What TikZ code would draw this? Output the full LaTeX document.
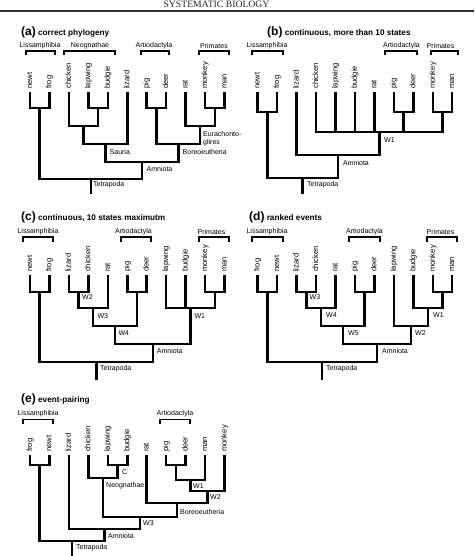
\documentclass[tikz,border=0pt]{standalone}
\usepackage{fontspec}
\setmainfont{Liberation Sans}
\newfontfamily\journalfont{Liberation Serif}
\usepackage{tikz}
\usetikzlibrary{positioning}

\begin{document}
\begin{tikzpicture}[x=1pt,y=-1pt,
  treeline/.style={line width=2.5pt},
  groupbracket/.style={line width=1.5pt},
  leafname/.style={rotate=90,anchor=west,inner sep=3pt,font=\fontsize{7.6}{8}\selectfont,text height=5.5pt,text depth=1.5pt},
  cladename/.style={anchor=west,inner sep=0pt,font=\fontsize{7}{7.5}\selectfont,align=left},
  groupname/.style={inner sep=0pt,font=\fontsize{7}{8}\selectfont},
  paneltitle/.style={anchor=base west,inner sep=0pt,font=\bfseries\fontsize{8.2}{9}\selectfont}]
\useasboundingbox (0,0) rectangle (474,556);
%running head
\node[anchor=base,inner sep=0pt,font=\journalfont\fontsize{9.7}{10}\selectfont,black!85] (head) at (216.5,7.3) {SYSTEMATIC BIOLOGY};
\draw[line width=1.3pt,black!80] (0,11) -- (474,11);

%%%%%%%%%% (a) correct phylogeny
\node[paneltitle] (a-title) at (21,35.5) {{\fontsize{12}{12}\selectfont (a)} correct phylogeny};
%groups
\node[groupname] (a-liss) at (40,46) {Lissamphibia};
\draw[groupbracket] (26,55.5) |- (55,51) -- (55,55.5);
\node[groupname] (a-neog) at (90,46) {Neognathae};
\draw[groupbracket] (64,55.5) |- (115,51) -- (115,55.5);
\node[groupname] (a-artio) at (154,46) {Artiodactyla};
\draw[groupbracket] (141,55.5) |- (169,51) -- (169,55.5);
\node[groupname] (a-prim) at (214,46) {Primates};
\draw[groupbracket] (199,55.5) |- (229,51) -- (229,55.5);
%leaves
\node[leafname] (a-newt) at (30,92) {newt};
\node[leafname] (a-frog) at (49.45,92) {frog};
\node[leafname] (a-chicken) at (68.9,92) {chicken};
\node[leafname] (a-lapwing) at (88.35,92) {lapwing};
\node[leafname] (a-budgie) at (107.8,92) {budgie};
\node[leafname] (a-lizard) at (127.25,92) {lizard};
\node[leafname] (a-pig) at (146.7,92) {pig};
\node[leafname] (a-deer) at (166.15,92) {deer};
\node[leafname] (a-rat) at (185.6,92) {rat};
\node[leafname] (a-monkey) at (205.05,92) {monkey};
\node[leafname] (a-man) at (224.5,92) {man};
%internal nodes
\coordinate (a-nf) at (39.73,108);
\coordinate (a-lb) at (98.08,108);
\coordinate (a-neo) at (83.49,126);
\coordinate (a-sau) at (105.37,144);
\coordinate (a-pd) at (156.43,108);
\coordinate (a-mm) at (214.78,108);
\coordinate (a-eur) at (200.19,126);
\coordinate (a-bor) at (178.31,144);
\coordinate (a-amn) at (141.84,162);
\coordinate (a-tet) at (90.79,179);
\coordinate (a-root) at (90.79,194);
%branches
\draw[treeline] (a-newt.west) |- (a-nf) -| (a-frog.west);
\draw[treeline] (a-lapwing.west) |- (a-lb) -| (a-budgie.west);
\draw[treeline] (a-chicken.west) |- (a-neo) -| (a-lb);
\draw[treeline] (a-neo) |- (a-sau) -| (a-lizard.west);
\draw[treeline] (a-pig.west) |- (a-pd) -| (a-deer.west);
\draw[treeline] (a-monkey.west) |- (a-mm) -| (a-man.west);
\draw[treeline] (a-rat.west) |- (a-eur) -| (a-mm);
\draw[treeline] (a-pd) |- (a-bor) -| (a-eur);
\draw[treeline] (a-sau) |- (a-amn) -| (a-bor);
\draw[treeline] (a-nf) |- (a-tet) -| (a-amn);
\draw[treeline] (a-tet) -- (a-root);
%clade names
\node[cladename] (a-sauria) at (109.5,151.5) {Sauria};
\node[cladename] (a-eurach) at (203,138.5) {Eurachonto-\\glires};
\node[cladename] (a-boreo) at (182.5,151.5) {Boreoeutheria};
\node[cladename] (a-amniota) at (146.5,168.5) {Amniota};
\node[cladename] (a-tetrapoda) at (93,184.5) {Tetrapoda};

%%%%%%%%%% (b) continuous, more than 10 states
\node[paneltitle] (b-title) at (267,35.5) {{\fontsize{12}{12}\selectfont (b)} continuous, more than 10 states};
%groups
\node[groupname] (b-liss) at (267,46) {Lissamphibia};
\draw[groupbracket] (252,55.5) |- (283,51) -- (283,55.5);
\node[groupname] (b-artio) at (401.5,46) {Artiodactyla};
\draw[groupbracket] (385,55.5) |- (417,51) -- (417,55.5);
\node[groupname] (b-prim) at (440.5,46) {Primates};
\draw[groupbracket] (431,55.5) |- (458,51) -- (458,55.5);
%leaves
\node[leafname] (b-newt) at (257.7,92) {newt};
\node[leafname] (b-frog) at (277.15,92) {frog};
\node[leafname] (b-lizard) at (296.6,92) {lizard};
\node[leafname] (b-chicken) at (316.05,92) {chicken};
\node[leafname] (b-lapwing) at (335.5,92) {lapwing};
\node[leafname] (b-budgie) at (354.95,92) {budgie};
\node[leafname] (b-rat) at (374.4,92) {rat};
\node[leafname] (b-pig) at (393.85,92) {pig};
\node[leafname] (b-deer) at (413.3,92) {deer};
\node[leafname] (b-monkey) at (432.75,92) {monkey};
\node[leafname] (b-man) at (452.2,92) {man};
%internal nodes
\coordinate (b-nf) at (267.43,112);
\coordinate (b-pd) at (403.58,112);
\coordinate (b-mm) at (442.48,112);
\coordinate (b-w1) at (379.26,132);
\coordinate (b-amn) at (337.93,155);
\coordinate (b-tet) at (302.68,178);
\coordinate (b-root) at (302.68,194);
%branches
\draw[treeline] (b-newt.west) |- (b-nf) -| (b-frog.west);
\draw[treeline] (b-pig.west) |- (b-pd) -| (b-deer.west);
\draw[treeline] (b-monkey.west) |- (b-mm) -| (b-man.west);
\draw[treeline] (b-chicken.west) |- (b-w1) -| (b-mm);
\draw[treeline] (b-lapwing.west) -- (b-lapwing.west |- b-w1);
\draw[treeline] (b-budgie.west) -- (b-budgie.west |- b-w1);
\draw[treeline] (b-rat.west) -- (b-rat.west |- b-w1);
\draw[treeline] (b-pd) -- (b-pd |- b-w1);
\draw[treeline] (b-lizard.west) |- (b-amn) -| (b-w1);
\draw[treeline] (b-nf) |- (b-tet) -| (b-amn);
\draw[treeline] (b-tet) -- (b-root);
%clade names
\node[cladename] (b-w1name) at (384,140) {W1};
\node[cladename] (b-amniota) at (343,163) {Amniota};
\node[cladename] (b-tetrapoda) at (307,184.5) {Tetrapoda};

%%%%%%%%%% (c) continuous, 10 states maximutm
\node[paneltitle] (c-title) at (21,220) {{\fontsize{12}{12}\selectfont (c)} continuous, 10 states maximutm};
%groups
\node[groupname] (c-liss) at (38,232) {Lissamphibia};
\draw[groupbracket] (23,242) |- (53,237) -- (53,242);
\node[groupname] (c-artio) at (133.5,232) {Artiodactyla};
\draw[groupbracket] (121,242) |- (151,237) -- (151,242);
\node[groupname] (c-prim) at (211.5,232) {Primates};
\draw[groupbracket] (199,242) |- (229,237) -- (229,242);
%leaves
\node[leafname] (c-newt) at (30,275) {newt};
\node[leafname] (c-frog) at (49.45,275) {frog};
\node[leafname] (c-lizard) at (68.9,275) {lizard};
\node[leafname] (c-chicken) at (88.35,275) {chicken};
\node[leafname] (c-rat) at (107.8,275) {rat};
\node[leafname] (c-pig) at (127.25,275) {pig};
\node[leafname] (c-deer) at (146.7,275) {deer};
\node[leafname] (c-lapwing) at (166.15,275) {lapwing};
\node[leafname] (c-budgie) at (185.6,275) {budgie};
\node[leafname] (c-monkey) at (205.05,275) {monkey};
\node[leafname] (c-man) at (224.5,275) {man};
%internal nodes
\coordinate (c-nf) at (39.73,292);
\coordinate (c-w2) at (78.63,292);
\coordinate (c-w3) at (93.21,308);
\coordinate (c-pd) at (136.98,292);
\coordinate (c-w4) at (115.1,326);
\coordinate (c-mm) at (214.78,292);
\coordinate (c-w1) at (190.46,308);
\coordinate (c-amn) at (152.78,344);
\coordinate (c-tet) at (96.25,362);
\coordinate (c-root) at (96.25,380);
%branches
\draw[treeline] (c-newt.west) |- (c-nf) -| (c-frog.west);
\draw[treeline] (c-lizard.west) |- (c-w2) -| (c-chicken.west);
\draw[treeline] (c-w2) |- (c-w3) -| (c-rat.west);
\draw[treeline] (c-pig.west) |- (c-pd) -| (c-deer.west);
\draw[treeline] (c-w3) |- (c-w4) -| (c-pd);
\draw[treeline] (c-monkey.west) |- (c-mm) -| (c-man.west);
\draw[treeline] (c-lapwing.west) |- (c-w1) -| (c-mm);
\draw[treeline] (c-budgie.west) -- (c-budgie.west |- c-w1);
\draw[treeline] (c-w4) |- (c-amn) -| (c-w1);
\draw[treeline] (c-nf) |- (c-tet) -| (c-amn);
\draw[treeline] (c-tet) -- (c-root);
%clade names
\node[cladename] (c-w2name) at (82,297.5) {W2};
\node[cladename] (c-w3name) at (97.3,316) {W3};
\node[cladename] (c-w4name) at (118.3,333.5) {W4};
\node[cladename] (c-w1name) at (194.3,316) {W1};
\node[cladename] (c-amniota) at (156.7,351) {Amniota};
\node[cladename] (c-tetrapoda) at (100,368.5) {Tetrapoda};

%%%%%%%%%% (d) ranked events
\node[paneltitle] (d-title) at (249,220) {{\fontsize{12}{12}\selectfont (d)} ranked events};
%groups
\node[groupname] (d-liss) at (267,232) {Lissamphibia};
\draw[groupbracket] (252,242) |- (283,237) -- (283,242);
\node[groupname] (d-artio) at (364.5,232) {Artiodactyla};
\draw[groupbracket] (349,242) |- (380,237) -- (380,242);
\node[groupname] (d-prim) at (440.5,232) {Primates};
\draw[groupbracket] (427,242) |- (457,237) -- (457,242);
%leaves
\node[leafname] (d-frog) at (257.7,275) {frog};
\node[leafname] (d-newt) at (277.15,275) {newt};
\node[leafname] (d-lizard) at (296.6,275) {lizard};
\node[leafname] (d-chicken) at (316.05,275) {chicken};
\node[leafname] (d-rat) at (335.5,275) {rat};
\node[leafname] (d-pig) at (354.95,275) {pig};
\node[leafname] (d-deer) at (374.4,275) {deer};
\node[leafname] (d-lapwing) at (393.85,275) {lapwing};
\node[leafname] (d-budgie) at (413.3,275) {budgie};
\node[leafname] (d-monkey) at (432.75,275) {monkey};
\node[leafname] (d-man) at (452.2,275) {man};
%internal nodes
\coordinate (d-fn) at (267.43,292);
\coordinate (d-w3) at (306.33,292);
\coordinate (d-w4) at (320.91,308);
\coordinate (d-pd) at (364.68,292);
\coordinate (d-w5) at (342.8,326);
\coordinate (d-mm) at (442.48,292);
\coordinate (d-w1) at (427.89,308);
\coordinate (d-w2) at (410.87,326);
\coordinate (d-amn) at (376.83,344);
\coordinate (d-tet) at (322.13,362);
\coordinate (d-root) at (322.13,380);
%branches
\draw[treeline] (d-frog.west) |- (d-fn) -| (d-newt.west);
\draw[treeline] (d-lizard.west) |- (d-w3) -| (d-chicken.west);
\draw[treeline] (d-w3) |- (d-w4) -| (d-rat.west);
\draw[treeline] (d-pig.west) |- (d-pd) -| (d-deer.west);
\draw[treeline] (d-w4) |- (d-w5) -| (d-pd);
\draw[treeline] (d-monkey.west) |- (d-mm) -| (d-man.west);
\draw[treeline] (d-budgie.west) |- (d-w1) -| (d-mm);
\draw[treeline] (d-lapwing.west) |- (d-w2) -| (d-w1);
\draw[treeline] (d-w5) |- (d-amn) -| (d-w2);
\draw[treeline] (d-fn) |- (d-tet) -| (d-amn);
\draw[treeline] (d-tet) -- (d-root);
%clade names
\node[cladename] (d-w3name) at (309.5,297.5) {W3};
\node[cladename] (d-w4name) at (326,315.5) {W4};
\node[cladename] (d-w5name) at (348,333.5) {W5};
\node[cladename] (d-w1name) at (433,315.5) {W1};
\node[cladename] (d-w2name) at (415,333.5) {W2};
\node[cladename] (d-amniota) at (382,350.5) {Amniota};
\node[cladename] (d-tetrapoda) at (326,368.5) {Tetrapoda};

%%%%%%%%%% (e) event-pairing
\node[paneltitle] (e-title) at (21,402) {{\fontsize{12}{12}\selectfont (e)} event-pairing};
%groups
\node[groupname] (e-liss) at (38,413.5) {Lissamphibia};
\draw[groupbracket] (23,424) |- (53,419.5) -- (53,424);
\node[groupname] (e-artio) at (175,413.5) {Artiodactyla};
\draw[groupbracket] (160,424) |- (190,419.5) -- (190,424);
%leaves
\node[leafname] (e-frog) at (30,455) {frog};
\node[leafname] (e-newt) at (49.45,455) {newt};
\node[leafname] (e-lizard) at (68.9,455) {lizard};
\node[leafname] (e-chicken) at (88.35,455) {chicken};
\node[leafname] (e-lapwing) at (107.8,455) {lapwing};
\node[leafname] (e-budgie) at (127.25,455) {budgie};
\node[leafname] (e-rat) at (146.7,455) {rat};
\node[leafname] (e-pig) at (166.15,455) {pig};
\node[leafname] (e-deer) at (185.6,455) {deer};
\node[leafname] (e-man) at (205.05,455) {man};
\node[leafname] (e-monkey) at (224.5,455) {monkey};
%internal nodes
\coordinate (e-fn) at (39.73,465);
\coordinate (e-c) at (117.53,465);
\coordinate (e-neo) at (102.94,478);
\coordinate (e-pd) at (175.88,465);
\coordinate (e-w1) at (190.47,480);
\coordinate (e-w2) at (207.49,491);
\coordinate (e-bor) at (177.1,503);
\coordinate (e-w3) at (140.02,517);
\coordinate (e-amn) at (104.46,529);
\coordinate (e-tet) at (72.1,541);
\coordinate (e-root) at (72.1,557);
%branches
\draw[treeline] (e-frog.west) |- (e-fn) -| (e-newt.west);
\draw[treeline] (e-lapwing.west) |- (e-c) -| (e-budgie.west);
\draw[treeline] (e-chicken.west) |- (e-neo) -| (e-c);
\draw[treeline] (e-pig.west) |- (e-pd) -| (e-deer.west);
\draw[treeline] (e-pd) |- (e-w1) -| (e-man.west);
\draw[treeline] (e-w1) |- (e-w2) -| (e-monkey.west);
\draw[treeline] (e-rat.west) |- (e-bor) -| (e-w2);
\draw[treeline] (e-neo) |- (e-w3) -| (e-bor);
\draw[treeline] (e-lizard.west) |- (e-amn) -| (e-w3);
\draw[treeline] (e-fn) |- (e-tet) -| (e-amn);
\draw[treeline] (e-tet) -- (e-root);
%clade names
\node[cladename] (e-cname) at (122,472) {C};
\node[cladename] (e-neog) at (106,486) {Neognathae};
\node[cladename] (e-w1name) at (193,486) {W1};
\node[cladename] (e-w2name) at (210,497) {W2};
\node[cladename] (e-boreo) at (180,511.5) {Boreoeutheria};
\node[cladename] (e-w3name) at (143,523) {W3};
\node[cladename] (e-amniota) at (108,536) {Amniota};
\node[cladename] (e-tetrapoda) at (76,548) {Tetrapoda};
\end{tikzpicture}
\end{document}
